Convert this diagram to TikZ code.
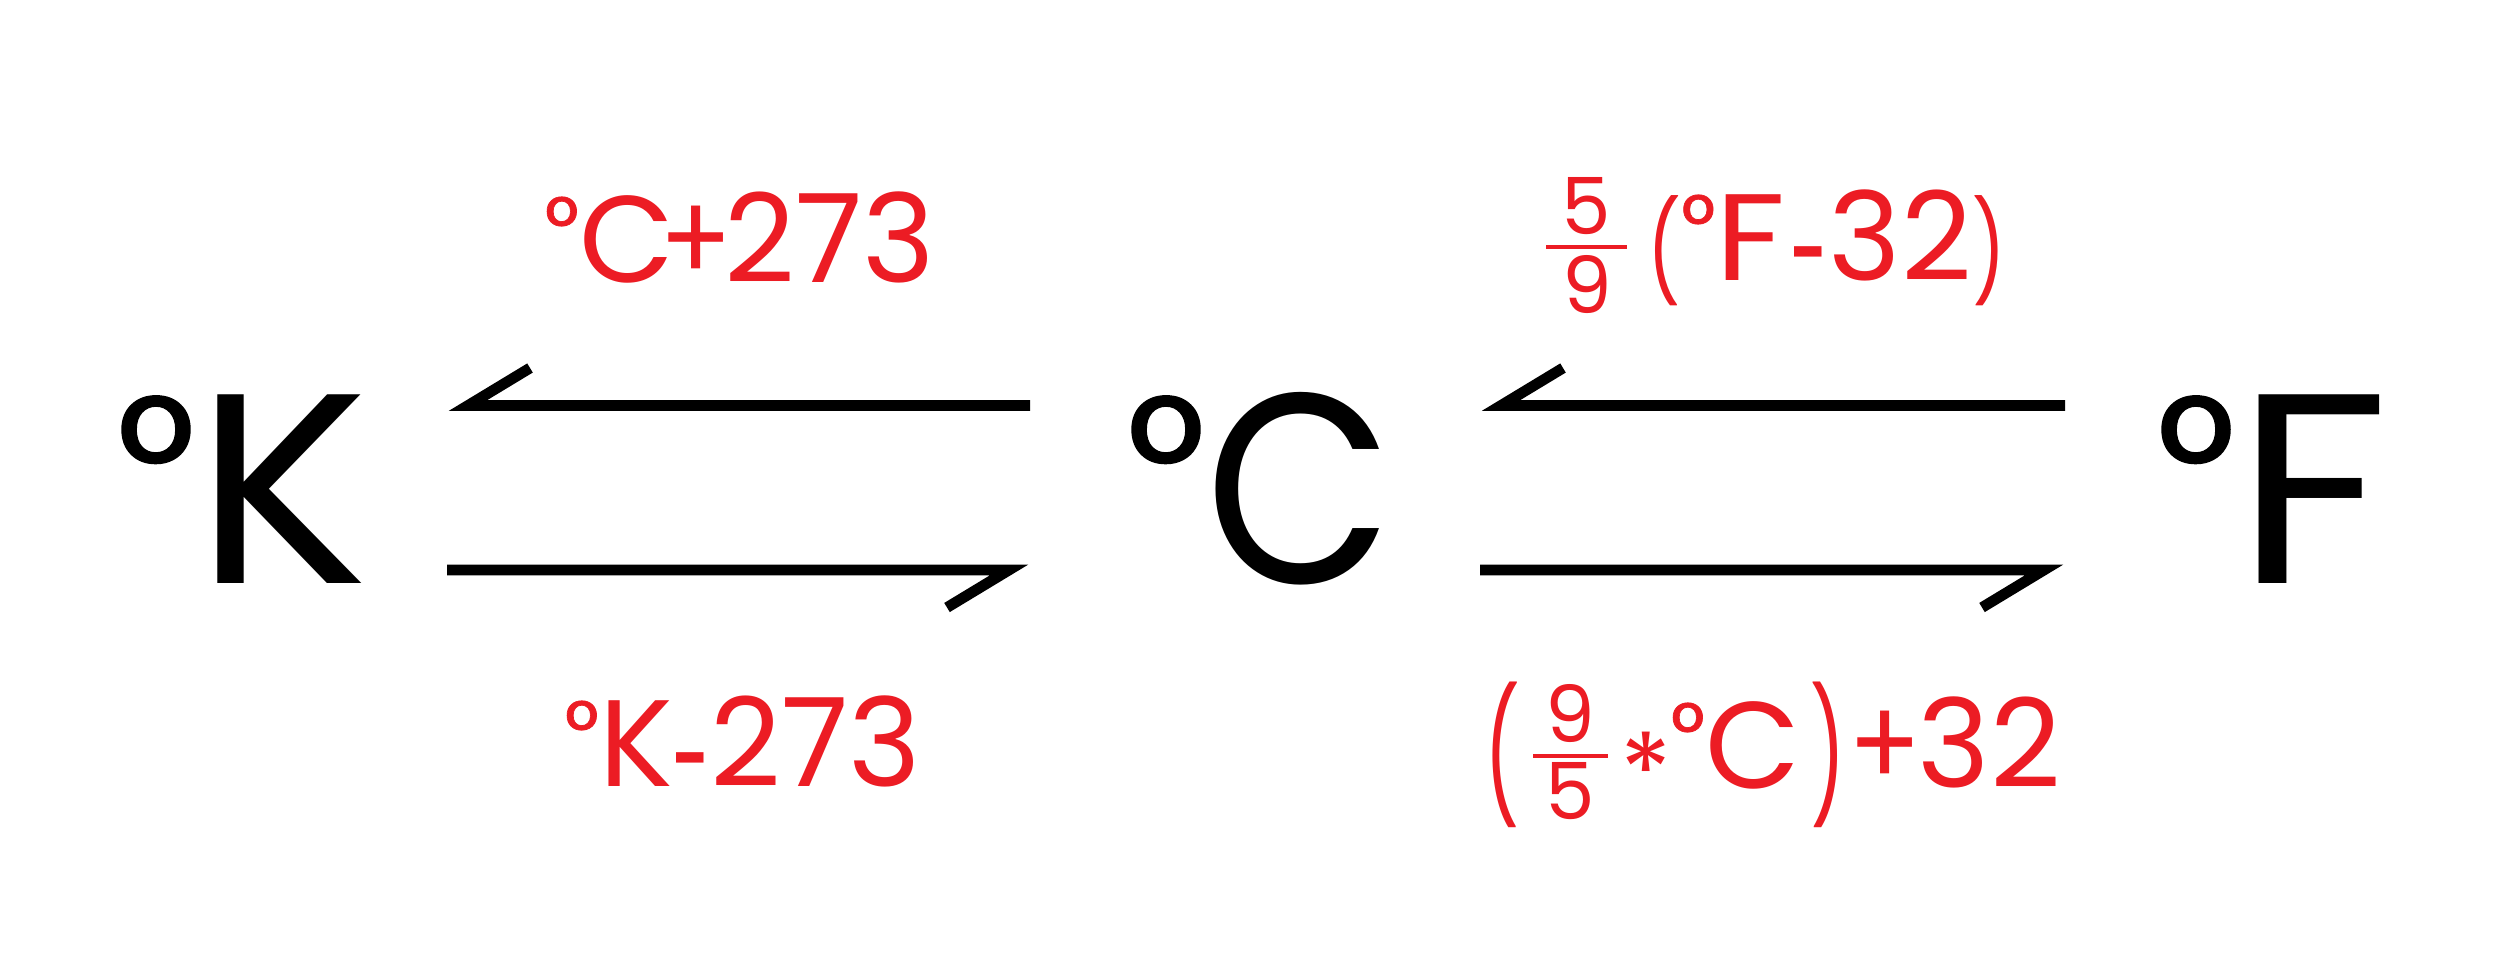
\documentclass[tikz,border=0pt]{standalone}
\usepackage{graphicx}
\usepackage{fontspec}
\setmainfont{Poppins}
\newfontfamily\ringfont[FakeBold=0.8]{Poppins}
\definecolor{lblred}{RGB}{236,28,36}
\newcommand\dgbig{\raisebox{15pt}{\scalebox{0.71}{\ringfont °}}}
\newcommand\dgsmall{\raisebox{7.6pt}{\scalebox{0.68}{\ringfont °}}}
\newcommand\hy{\raisebox{-6.2pt}{\scalebox{0.56}[1.1]{-}}}
\newcommand\tparL{\raisebox{-2pt}{\scalebox{0.6}[0.8]{(}}}
\newcommand\tparR{\raisebox{-2pt}{\scalebox{0.6}[0.8]{)}}}
\newcommand\nplus{\scalebox{0.87}[1]{+}}
\newcommand\wideF{\scalebox{1.13}[1]{F}}
\tikzset{
  unitbig/.style={font=\fontsize{77}{80}\selectfont, inner sep=0pt, anchor=base west},
  lbl/.style={text=lblred, font=\fontsize{35}{38}\selectfont, inner sep=0pt, anchor=base west},
  fracdigit/.style={text=lblred, font=\fontsize{22.4}{24}\selectfont, inner sep=0pt, anchor=base},
  bigparen/.style={text=lblred, font=\fontsize{37}{40}\selectfont, inner sep=0pt},
  fbar/.style={draw=lblred, line width=0.045cm},
  harp/.style={draw=black, line width=0.107cm, line join=miter}
}
\begin{document}
\begin{tikzpicture}[x=0.01cm, y=-0.01cm]
  \useasboundingbox[fill=white] (0,0) rectangle (2500,976);
  % unit nodes
  \node[unitbig] (K) at (116,583) {\dgbig\scalebox{1.07}[1]{K}};
  \node[unitbig] (C) at (1126,583) {\dgbig\scalebox{0.9}[1]{C}};
  \node[unitbig] (F) at (2156,583) {\dgbig\wideF};
  % arrow coordinates K <-> C
  \coordinate (kcTopBarb) at (530,368);
  \coordinate (kcTopTip) at (468,405.5);
  \coordinate (kcTopEnd) at (1030,405.5);
  \coordinate (kcBotStart) at (447,570);
  \coordinate (kcBotTip) at (1009,570);
  \coordinate (kcBotBarb) at (947,607.5);
  % arrow coordinates C <-> F
  \coordinate (cfTopBarb) at (1563,368);
  \coordinate (cfTopTip) at (1501,405.5);
  \coordinate (cfTopEnd) at (2065,405.5);
  \coordinate (cfBotStart) at (1480,570);
  \coordinate (cfBotTip) at (2044,570);
  \coordinate (cfBotBarb) at (1982,607.5);
  \draw[harp] (kcTopBarb) -- (kcTopTip) -- (kcTopEnd);
  \draw[harp] (kcBotStart) -- (kcBotTip) -- (kcBotBarb);
  \draw[harp] (cfTopBarb) -- (cfTopTip) -- (cfTopEnd);
  \draw[harp] (cfBotStart) -- (cfBotTip) -- (cfBotBarb);
  % labels K <-> C
  \node[lbl] (lblCK) at (544,282) {\dgsmall C\kern-4pt\nplus\kern-2.5pt 273};
  \node[lbl] (lblKC) at (564,786) {\dgsmall K\hy 273};
  % label F -> C : 5/9 (°F-32)
  \node[fracdigit] (fnumA) at (1586,235) {5};
  \node[fracdigit] (fdenA) at (1587,313) {9};
  \coordinate (fbarAL) at (1546,247);
  \coordinate (fbarAR) at (1627,247);
  \draw[fbar] (fbarAL) -- (fbarAR);
  \node[lbl] (lblFC) at (1647,280) {\tparL\dgsmall\wideF\kern1.5pt\hy 32\tparR};
  % label C -> F : (9/5*°C)+32
  \node[bigparen, anchor=west] (parL) at (1484,755) {\scalebox{0.6}[1]{(}};
  \node[fracdigit] (fnumB) at (1570,742) {9};
  \node[fracdigit] (fdenB) at (1570,819) {5};
  \coordinate (fbarBL) at (1533,756);
  \coordinate (fbarBR) at (1608,756);
  \draw[fbar] (fbarBL) -- (fbarBR);
  \node[text=lblred, font=\fontsize{30}{32}\selectfont, inner sep=0pt] (star) at (1646,771) {*};
  \node[lbl] (lblCF) at (1670,788) {\dgsmall C};
  \node[bigparen, anchor=east] (parR) at (1847,755) {\scalebox{0.6}[1]{)}};
  \node[lbl] (plus) at (1848,787) {\nplus\kern-1.2pt 32};
\end{tikzpicture}
\end{document}
